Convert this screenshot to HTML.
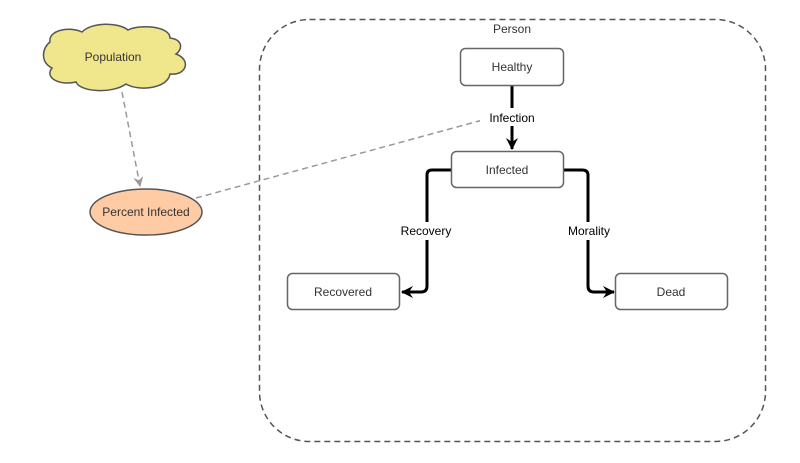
<!DOCTYPE html>
<html><head><style>body{margin:0;background:#fff}svg{display:block}text{font-family:"Liberation Sans",sans-serif;font-size:12px;fill:#333}</style></head><body>
<svg width="800" height="463" viewBox="0 0 800 463">
<defs>
<marker id="a" markerWidth="14" markerHeight="14" refX="11" refY="6" orient="auto" markerUnits="userSpaceOnUse"><path d="M0,0 L12,6 L0,12 L4,6 Z" fill="#000"/></marker>
<marker id="g" markerWidth="12" markerHeight="12" refX="9" refY="5" orient="auto" markerUnits="userSpaceOnUse"><path d="M0,0 L10,5 L0,10 L3,5 Z" fill="#999"/></marker>
</defs>
<rect x="259.5" y="19.5" width="506" height="422" rx="50" fill="none" stroke="#555" stroke-width="1.5" stroke-dasharray="6,4"/>
<text x="512" y="33" text-anchor="middle">Person</text>
<path d="M122,92 L140,186" stroke="#999" stroke-width="1.5" stroke-dasharray="6,4" fill="none" marker-end="url(#g)"/>
<path d="M196,198 L490,118" stroke="#999" stroke-width="1.5" stroke-dasharray="6,4" fill="none"/>
<path d="M50,42 C48,30 70,26 82,32 C92,22 118,22 128,30 C140,24 170,26 170,38 C184,40 182,50 176,54 C192,60 186,76 170,74 C168,88 140,92 126,84 C112,94 80,92 76,82 C60,86 44,78 52,68 C40,62 42,48 50,42 Z" fill="#f0e68c" stroke="#555" stroke-width="1.5"/>
<text x="113" y="61" text-anchor="middle">Population</text>
<ellipse cx="146" cy="212" rx="56" ry="23" fill="#ffcba4" stroke="#555" stroke-width="1.5"/>
<text x="146" y="216" text-anchor="middle">Percent Infected</text>
<path d="M512,86 L512,149" stroke="#000" stroke-width="3" fill="none" marker-end="url(#a)"/>
<path d="M451,170 L432,170 Q427,170 427,175 L427,286 Q427,292 421,292 L402,292" stroke="#000" stroke-width="3" fill="none" marker-end="url(#a)"/>
<path d="M564,170 L582,170 Q588,170 588,175 L588,286 Q588,292 594,292 L614,292" stroke="#000" stroke-width="3" fill="none" marker-end="url(#a)"/>
<rect x="480" y="108" width="64" height="18" fill="#fff"/>
<text x="512" y="122" text-anchor="middle" style="fill:#000">Infection</text>
<rect x="397" y="222" width="60" height="18" fill="#fff"/>
<text x="426" y="235" text-anchor="middle" style="fill:#000">Recovery</text>
<rect x="562" y="222" width="54" height="18" fill="#fff"/>
<text x="589" y="235" text-anchor="middle" style="fill:#000">Morality</text>
<rect x="460.5" y="48.5" width="103" height="37" rx="5" fill="#fff" stroke="#666" stroke-width="1.5"/>
<text x="512" y="71" text-anchor="middle">Healthy</text>
<rect x="451.5" y="151.5" width="112" height="36" rx="5" fill="#fff" stroke="#666" stroke-width="1.5"/>
<text x="507" y="174" text-anchor="middle">Infected</text>
<rect x="287.5" y="273.5" width="112" height="36" rx="5" fill="#fff" stroke="#666" stroke-width="1.5"/>
<text x="343" y="296" text-anchor="middle">Recovered</text>
<rect x="615.5" y="273.5" width="112" height="36" rx="5" fill="#fff" stroke="#666" stroke-width="1.5"/>
<text x="671" y="296" text-anchor="middle">Dead</text>
</svg>
</body></html>
